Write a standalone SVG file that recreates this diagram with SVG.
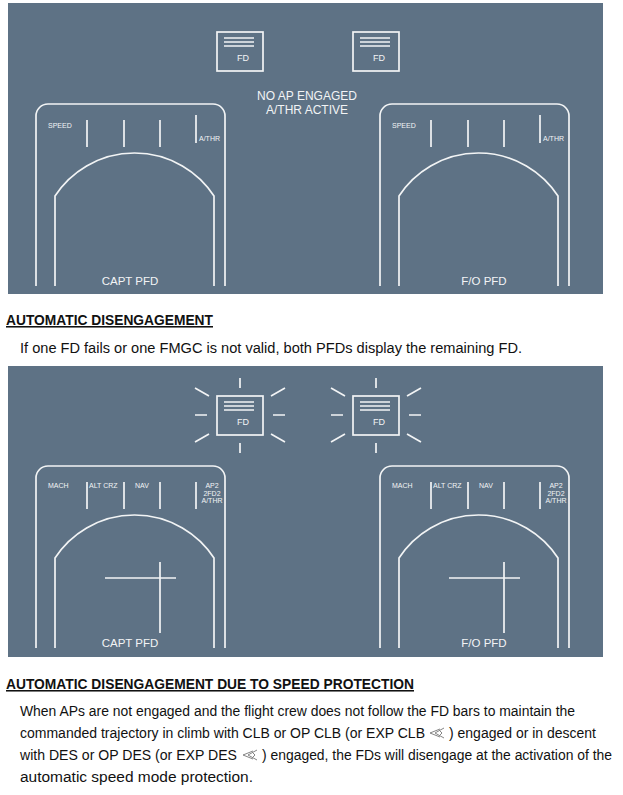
<svg xmlns="http://www.w3.org/2000/svg" width="623" height="795" viewBox="0 0 623 795">
<style>
.p{fill:#5e7285}
.w{fill:none;stroke:#f2f4f5;stroke-width:1.7}
.t{fill:#f2f4f5;font-family:"Liberation Sans",Arial,sans-serif}
.s{font-size:7px}
.b{fill:#111;font-family:"Liberation Sans",Arial,sans-serif;font-size:15.5px}
.h{font-weight:bold;text-decoration:underline}
</style>
<defs>
<g id="fd"><rect class="w" x="0" y="0" width="46" height="39"/><path class="w" d="M7 6h30M7 10h30M7 14h30"/><text class="t" x="26" y="29" font-size="9" text-anchor="middle">FD</text></g>
<g id="rays"><path class="w" d="M23 -18v10M23 47v10M-22 19h12M56 19h12M-22 -8l14 8M54 0l14 -8M-22 46l14 -8M54 38l14 8"/></g>
<g id="frame"><path class="w" d="M36 286V116a12 12 0 0 1 12 -12H213a12 12 0 0 1 12 12V286"/><path class="w" d="M55 286V196A95 95 0 0 1 214 196V286"/></g>
</defs>
<rect class="p" x="8" y="3" width="595" height="291"/>
<g id="fd1"><use href="#fd" x="217" y="32"/></g>
<g id="fd2"><use href="#fd" x="353" y="32"/></g>
<g id="status"><text class="t" x="307" y="100" font-size="12" text-anchor="middle">NO AP ENGAGED</text><text class="t" x="307" y="114" font-size="12" text-anchor="middle">A/THR ACTIVE</text></g>
<g id="capt1"><use href="#frame"/><path class="w" d="M87 120v27M124 120v27M160 120v27M196 115v28"/><text class="t s" x="48" y="128">SPEED</text><text class="t s" x="199" y="141">A/THR</text><text class="t" x="130" y="285" font-size="11.5" text-anchor="middle">CAPT PFD</text></g>
<g id="fo1" transform="translate(344,0)"><use href="#frame"/><path class="w" d="M87 120v27M124 120v27M160 120v27M196 115v28"/><text class="t s" x="48" y="128">SPEED</text><text class="t s" x="199" y="141">A/THR</text><text class="t" x="140" y="285" font-size="11.5" text-anchor="middle">F/O PFD</text></g>
<text class="b h" x="6" y="325" font-size="14.5" textLength="207" lengthAdjust="spacingAndGlyphs">AUTOMATIC DISENGAGEMENT</text>
<text class="b" x="20" y="353" textLength="502" lengthAdjust="spacingAndGlyphs">If one FD fails or one FMGC is not valid, both PFDs display the remaining FD.</text>
<rect class="p" x="8" y="366" width="595" height="291"/>
<g id="fd3"><use href="#fd" x="217" y="396"/><use href="#rays" x="217" y="396"/></g>
<g id="fd4"><use href="#fd" x="353" y="396"/><use href="#rays" x="353" y="396"/></g>
<g id="capt2" transform="translate(0,362)"><use href="#frame"/><path class="w" d="M87 120v27M124 120v27M160 120v27M196 120v27M105 216h71M160 200v71"/><text class="t s" x="48" y="126">MACH</text><text class="t s" x="89" y="126">ALT CRZ</text><text class="t s" x="135" y="126">NAV</text><text class="t s" x="212" y="126" text-anchor="middle">AP2</text><text class="t s" x="212" y="133.5" text-anchor="middle">2FD2</text><text class="t s" x="212" y="141" text-anchor="middle">A/THR</text><text class="t" x="130" y="285" font-size="11.5" text-anchor="middle">CAPT PFD</text></g>
<g id="fo2" transform="translate(344,362)"><use href="#frame"/><path class="w" d="M87 120v27M124 120v27M160 120v27M196 120v27M105 216h71M160 200v71"/><text class="t s" x="48" y="126">MACH</text><text class="t s" x="89" y="126">ALT CRZ</text><text class="t s" x="135" y="126">NAV</text><text class="t s" x="212" y="126" text-anchor="middle">AP2</text><text class="t s" x="212" y="133.5" text-anchor="middle">2FD2</text><text class="t s" x="212" y="141" text-anchor="middle">A/THR</text><text class="t" x="140" y="285" font-size="11.5" text-anchor="middle">F/O PFD</text></g>
<text class="b h" x="6" y="689" font-size="14.5" textLength="408" lengthAdjust="spacingAndGlyphs">AUTOMATIC DISENGAGEMENT DUE TO SPEED PROTECTION</text>
<text class="b" x="20" y="716" textLength="555" lengthAdjust="spacingAndGlyphs">When APs are not engaged and the flight crew does not follow the FD bars to maintain the</text>
<text class="b" x="20" y="738" textLength="405" lengthAdjust="spacingAndGlyphs">commanded trajectory in climb with CLB or OP CLB (or EXP CLB</text>
<text class="b" x="449" y="738" textLength="147" lengthAdjust="spacingAndGlyphs">) engaged or in descent</text>
<text class="b" x="20" y="760" textLength="217" lengthAdjust="spacingAndGlyphs">with DES or OP DES (or EXP DES</text>
<text class="b" x="262" y="760" textLength="350" lengthAdjust="spacingAndGlyphs">) engaged, the FDs will disengage at the activation of the</text>
<text class="b" x="20" y="782" textLength="233" lengthAdjust="spacingAndGlyphs">automatic speed mode protection.</text>
<g id="icons" fill="none" stroke="#777" stroke-width="0.9"><path d="M440 729l-10 4l10 4M444 728l-9 5l9 5M440 731l2 2l-2 2"/><path d="M253 751l-10 4l10 4M257 750l-9 5l9 5M253 753l2 2l-2 2"/></g>
</svg>
